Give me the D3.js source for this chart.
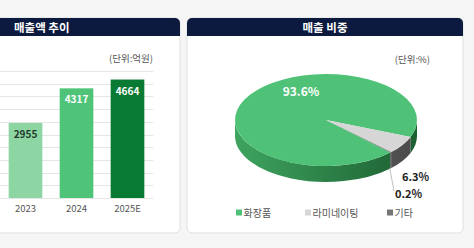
<!DOCTYPE html>
<html>
<head>
<meta charset="utf-8">
<script src="https://cdn.jsdelivr.net/npm/d3@7"></script>
<style>
  html, body { margin: 0; padding: 0; background: #f4f5f4; }
  svg { display: block; font-family: "Noto Sans CJK KR", "Noto Sans", sans-serif; }
</style>
</head>
<body>
<div id="chart"></div>
<script>
// chart values
const years = ["2023", "2024", "2025E"];
const sales = [2955, 4317, 4664];
const barColors = ["#8dd5a2", "#4fc479", "#087a33"];
const labelColors = ["#1f3a2b", "#ffffff", "#ffffff"];
const yTicks = [0, 500, 1000, 1500, 2000, 2500, 3000, 3500, 4000, 4500, 5000];

const mixNames = ["화장품", "라미네이팅", "기타"];
const mixValues = [93.6, 6.3, 0.2];
const mixColors = ["#50c278", "#d6d6d6", "#767676"];

const width = 474, height = 248;

const svg = d3.select("#chart").append("svg")
    .attr("width", width)
    .attr("height", height);

svg.append("rect").attr("width", width).attr("height", height).attr("fill", "#f4f5f4");

// panels
function panel(x, w, title, centered) {
    svg.append("rect")
        .attr("x", x).attr("y", 18).attr("width", w).attr("height", 215)
        .attr("rx", 5)
        .attr("fill", "#ffffff").attr("stroke", "#dbe2dc");
    svg.append("path")
        .attr("d", `M${x},36 V23 a5,5 0 0 1 5,-5 H${x + w - 5} a5,5 0 0 1 5,5 V36 Z`)
        .attr("fill", "#0b1a3e");
    svg.append("text")
        .attr("x", centered ? x + w / 2 : 14)
        .attr("y", 31.5)
        .attr("text-anchor", centered ? "middle" : "start")
        .attr("fill", "#ffffff")
        .style("font-size", "11.5px")
        .style("font-weight", "700")
        .text(title);
}
panel(-12, 192, "매출액 추이", false);
panel(187, 276, "매출 비중", true);

// ---- bar chart ----
const x = d3.scaleBand().domain(years).range([0, 153]).paddingInner(0.34).paddingOuter(0.17);
const y = d3.scaleLinear().domain([0, 5000]).range([198, 71]);

svg.append("text")
    .attr("x", 153).attr("y", 62)
    .attr("text-anchor", "end")
    .attr("fill", "#555")
    .style("font-size", "9.5px")
    .text("(단위:억원)");

svg.append("g")
    .selectAll("line")
    .data(yTicks)
    .join("line")
    .attr("x1", 0).attr("x2", 153)
    .attr("y1", d => Math.round(y(d)) + 0.5)
    .attr("y2", d => Math.round(y(d)) + 0.5)
    .attr("stroke", "#e4e6e4");

svg.append("g")
    .selectAll("rect")
    .data(sales)
    .join("rect")
    .attr("x", (d, i) => x(years[i]))
    .attr("y", d => y(d))
    .attr("width", x.bandwidth())
    .attr("height", d => y(0) - y(d))
    .attr("fill", (d, i) => barColors[i]);

svg.append("g")
    .selectAll("text")
    .data(sales)
    .join("text")
    .attr("x", (d, i) => x(years[i]) + x.bandwidth() / 2)
    .attr("y", d => y(d) + 15)
    .attr("text-anchor", "middle")
    .attr("fill", (d, i) => labelColors[i])
    .style("font-size", "10px")
    .style("font-weight", "700")
    .text(d => d);

svg.append("g")
    .selectAll("text")
    .data(years)
    .join("text")
    .attr("x", d => x(d) + x.bandwidth() / 2)
    .attr("y", 212)
    .attr("text-anchor", "middle")
    .attr("fill", "#555")
    .style("font-size", "9.5px")
    .text(d => d);

// ---- 3d pie ----
svg.append("text")
    .attr("x", 430).attr("y", 63)
    .attr("text-anchor", "end")
    .attr("fill", "#555")
    .style("font-size", "9.5px")
    .text("(단위:%)");

const cx = 326, cy = 120, rx = 91, ry = 46, depth = 16;
const pie = d3.pie().sort(null).startAngle(135 * Math.PI / 180).endAngle(495 * Math.PI / 180);
const arcs = pie(mixValues);

const px = a => cx + rx * Math.sin(a);
const py = a => cy - ry * Math.cos(a);

const defs = svg.append("defs");
function sideGrad(id, c1, c2) {
    const g = defs.append("linearGradient").attr("id", id)
        .attr("gradientUnits", "userSpaceOnUse")
        .attr("x1", cx - rx).attr("x2", cx + rx).attr("y1", 0).attr("y2", 0);
    g.append("stop").attr("offset", "0%").attr("stop-color", c1);
    g.append("stop").attr("offset", "100%").attr("stop-color", c2);
}
sideGrad("side0", "#3ea45f", "#1c5f31");
sideGrad("side1", "#7a7a7a", "#4a4a4a");
sideGrad("side2", "#5a5a5a", "#3a3a3a");

// side walls: visible where the rim faces front (angle between 90 and 270 deg)
function sidePath(a0, a1) {
    const segs = [];
    for (let k = -1; k <= 1; k++) {
        const lo = Math.max(a0, Math.PI / 2 + k * 2 * Math.PI);
        const hi = Math.min(a1, 3 * Math.PI / 2 + k * 2 * Math.PI);
        if (hi > lo) segs.push([lo, hi]);
    }
    return segs.map(([s, e]) =>
        `M${px(s)},${py(s)} A${rx},${ry} 0 0 1 ${px(e)},${py(e)} ` +
        `L${px(e)},${py(e) + depth} A${rx},${ry} 0 0 0 ${px(s)},${py(s) + depth} Z`
    ).join(" ");
}

svg.append("g")
    .selectAll("path")
    .data(arcs)
    .join("path")
    .attr("d", d => sidePath(d.startAngle, d.endAngle))
    .attr("fill", (d, i) => `url(#side${i})`);

function topPath(d) {
    const large = d.endAngle - d.startAngle > Math.PI ? 1 : 0;
    return `M${cx},${cy} L${px(d.startAngle)},${py(d.startAngle)} ` +
        `A${rx},${ry} 0 ${large} 1 ${px(d.endAngle)},${py(d.endAngle)} Z`;
}

svg.append("g")
    .selectAll("path")
    .data(arcs)
    .join("path")
    .attr("d", topPath)
    .attr("fill", (d, i) => mixColors[i]);

// labels
svg.append("text")
    .attr("x", 301).attr("y", 96)
    .attr("text-anchor", "middle")
    .attr("fill", "#ffffff")
    .style("font-size", "12px")
    .style("font-weight", "700")
    .text(mixValues[0].toFixed(1) + "%");

svg.append("text")
    .attr("x", 402).attr("y", 181)
    .attr("fill", "#222")
    .style("font-size", "11px")
    .style("font-weight", "700")
    .text(mixValues[1].toFixed(1) + "%");

const etc = arcs[2];
const ma = (etc.startAngle + etc.endAngle) / 2;
svg.append("line")
    .attr("x1", px(ma) - 1).attr("y1", py(ma) + depth)
    .attr("x2", 394).attr("y2", 191)
    .attr("stroke", "#b0b0b0").attr("stroke-width", 0.8);

svg.append("text")
    .attr("x", 395).attr("y", 198)
    .attr("fill", "#222")
    .style("font-size", "11px")
    .style("font-weight", "700")
    .text(mixValues[2].toFixed(1) + "%");

// legend
const legendX = [236, 305, 387];
const legend = svg.append("g")
    .selectAll("g")
    .data(mixNames)
    .join("g")
    .attr("transform", (d, i) => `translate(${legendX[i]},213)`);
legend.append("rect")
    .attr("x", 0).attr("y", -3.5).attr("width", 6).attr("height", 6)
    .attr("fill", (d, i) => mixColors[i]);
legend.append("text")
    .attr("x", 7.5).attr("y", 3.5)
    .attr("fill", "#555")
    .style("font-size", "10px")
    .text(d => d);
</script>
</body>
</html>
